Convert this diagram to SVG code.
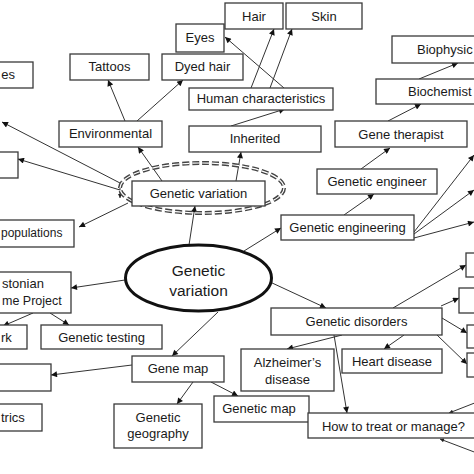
<svg xmlns="http://www.w3.org/2000/svg" width="474" height="474" viewBox="0 0 474 474">
<defs>
<marker id="ah" viewBox="0 0 10 10" refX="10" refY="5" markerWidth="8" markerHeight="6" markerUnits="userSpaceOnUse" orient="auto"><path d="M0,0 L10,5 L0,10 z" fill="#111"/></marker>
<marker id="as" viewBox="0 0 10 10" refX="10" refY="5" markerWidth="5" markerHeight="4" markerUnits="userSpaceOnUse" orient="auto"><path d="M0,0 L10,5 L0,10 z" fill="#222"/></marker>
<style>
rect.b{fill:#fff;stroke:#3a3a3a;stroke-width:1.3}
text{font-family:"Liberation Sans",Arial,sans-serif;font-size:13px;fill:#1a1a1a}
text.c{text-anchor:middle}
text.e{text-anchor:end}
#connectors line,#connectors path{stroke:#333;stroke-width:1;fill:none;marker-end:url(#ah)}
</style>
</defs>
<rect width="474" height="474" fill="#fff"/>
<g id="connectors">
<line x1="125" y1="121" x2="108" y2="80"/>
<line x1="137" y1="121" x2="183" y2="80"/>
<line x1="284" y1="88" x2="225" y2="37"/>
<line x1="251" y1="88" x2="274" y2="29"/>
<line x1="270" y1="88" x2="292" y2="29"/>
<line x1="231" y1="126" x2="285" y2="109"/>
<line x1="162" y1="181" x2="138" y2="147"/>
<line x1="236" y1="181" x2="241" y2="152"/>
<line x1="120" y1="183" x2="2" y2="122"/>
<line x1="120" y1="190" x2="18" y2="159"/>
<line x1="128" y1="203" x2="79" y2="227"/>
<line x1="189" y1="245" x2="195" y2="206"/>
<line x1="125" y1="280" x2="71" y2="288"/>
<line x1="244" y1="251" x2="281" y2="228"/>
<line x1="270" y1="282" x2="326" y2="308"/>
<line x1="218" y1="312" x2="172" y2="356"/>
<line x1="33" y1="313" x2="3" y2="326"/>
<line x1="50" y1="313" x2="69" y2="325"/>
<line x1="132" y1="365" x2="51" y2="375"/>
<line x1="193" y1="382" x2="177" y2="404"/>
<line x1="211" y1="382" x2="238" y2="396"/>
<line x1="344" y1="215" x2="374" y2="194"/>
<line x1="361" y1="169" x2="390" y2="148"/>
<line x1="388" y1="121" x2="421" y2="104"/>
<line x1="419" y1="79" x2="458" y2="63"/>
<line x1="414" y1="232" x2="474" y2="155"/>
<line x1="414" y1="234" x2="474" y2="190"/>
<line x1="414" y1="238" x2="474" y2="222"/>
<line x1="393" y1="308" x2="466" y2="265"/>
<line x1="441" y1="306" x2="459" y2="298"/>
<line x1="442" y1="318" x2="467" y2="333"/>
<line x1="437" y1="335" x2="467" y2="364"/>
<line x1="404" y1="335" x2="384" y2="349"/>
<line x1="342" y1="335" x2="287" y2="349"/>
<line x1="334" y1="335" x2="347" y2="413"/>
<line x1="490" y1="397" x2="449" y2="413" style="marker-end:url(#as)"/>
<line x1="490" y1="458" x2="440" y2="439" style="marker-end:url(#as)"/>
<path d="M120,190 L120,184" style="marker-end:url(#as)"/>
<path d="M120,191 L120,198" style="marker-end:url(#as)"/>
</g>
<g id="n-hair"><rect class="b" x="225" y="3" width="58" height="26"/><text class="c" x="254" y="21">Hair</text></g>
<g id="n-skin"><rect class="b" x="286" y="3" width="76" height="26"/><text class="c" x="324" y="21">Skin</text></g>
<g id="n-eyes"><rect class="b" x="176" y="24" width="48" height="28"/><text class="c" x="200" y="42">Eyes</text></g>
<g id="n-tattoos"><rect class="b" x="70" y="54" width="79" height="26"/><text class="c" x="109.5" y="71">Tattoos</text></g>
<g id="n-dyed"><rect class="b" x="162" y="54" width="81" height="26"/><text class="c" x="202.5" y="71">Dyed hair</text></g>
<g id="n-es"><rect class="b" x="-10" y="62" width="43" height="26"/><text class="e" x="15" y="79">es</text></g>
<g id="n-human"><rect class="b" x="189" y="88" width="144" height="22"/><text class="c" x="261" y="103">Human characteristics</text></g>
<g id="n-inherited"><rect class="b" x="189" y="126" width="132" height="26"/><text class="c" x="255" y="143">Inherited</text></g>
<g id="n-env"><rect class="b" x="59" y="121" width="103" height="26"/><text class="c" x="110.5" y="138">Environmental</text></g>
<g id="n-biophys"><rect class="b" x="392" y="36" width="90" height="27"/><text x="417" y="54">Biophysic</text></g>
<g id="n-biochem"><rect class="b" x="376" y="79" width="110" height="25"/><text x="408" y="96">Biochemist</text></g>
<g id="n-therapist"><rect class="b" x="335" y="121" width="132" height="26"/><text class="c" x="401" y="139">Gene therapist</text></g>
<g id="n-engineer"><rect class="b" x="317" y="169" width="120" height="25"/><text class="c" x="377" y="186">Genetic engineer</text></g>
<g id="n-engineering"><rect class="b" x="281" y="215" width="133" height="25"/><text class="c" x="347.5" y="232">Genetic engineering</text></g>
<g id="n-gv"><ellipse cx="202" cy="188" rx="82" ry="25" fill="none" stroke="#444" stroke-width="4" stroke-dasharray="7 3"/><ellipse cx="202" cy="188" rx="82" ry="25" fill="none" stroke="#fff" stroke-width="1.2" stroke-dasharray="7 3"/><rect class="b" x="132" y="181" width="133" height="25"/><text class="c" x="198.5" y="198">Genetic variation</text></g>
<g id="n-pop"><rect class="b" x="-10" y="220" width="84" height="27"/><text x="1" y="237" style="font-size:12px">populations</text></g>
<g id="n-left1"><rect class="b" x="-10" y="152" width="28" height="26"/></g>
<g id="n-center"><ellipse cx="198.5" cy="278" rx="73" ry="33" fill="#fff" stroke="#111" stroke-width="3"/><text class="c" x="198.5" y="276" style="font-size:15.5px">Genetic</text><text class="c" x="198.5" y="296" style="font-size:15.5px">variation</text></g>
<g id="n-estonian"><rect class="b" x="-10" y="272" width="81" height="41"/><text x="2" y="288">stonian</text><text x="2" y="305" style="font-size:12.5px">me Project</text></g>
<g id="n-rk"><rect class="b" x="-10" y="325" width="37" height="24"/><text x="1" y="342">rk</text></g>
<g id="n-testing"><rect class="b" x="41" y="325" width="121" height="24"/><text class="c" x="101.5" y="342">Genetic testing</text></g>
<g id="n-left2"><rect class="b" x="-10" y="364" width="61" height="27"/></g>
<g id="n-trics"><rect class="b" x="-10" y="404" width="52" height="27"/><text x="1" y="422">trics</text></g>
<g id="n-genemap"><rect class="b" x="132" y="356" width="92" height="26"/><text class="c" x="178" y="373">Gene map</text></g>
<g id="n-geo"><rect class="b" x="114" y="404" width="88" height="44"/><text class="c" x="158" y="422">Genetic</text><text class="c" x="158" y="438">geography</text></g>
<g id="n-geneticmap"><rect class="b" x="214" y="396" width="95" height="26"/><text class="c" x="259" y="413">Genetic map</text></g>
<g id="n-treat"><rect class="b" x="308" y="413" width="175" height="25"/><text class="c" x="393.5" y="431">How to treat or manage?</text></g>
<g id="n-disorders"><rect class="b" x="271" y="308" width="171" height="27"/><text class="c" x="356.5" y="326">Genetic disorders</text></g>
<g id="n-alz"><rect class="b" x="241" y="349" width="93" height="42"/><text class="c" x="287.5" y="367">Alzheimer’s</text><text class="c" x="287.5" y="384">disease</text></g>
<g id="n-heart"><rect class="b" x="342" y="349" width="100" height="24"/><text class="c" x="392" y="366">Heart disease</text></g>
<g id="n-r1"><rect class="b" x="466" y="253" width="20" height="24"/></g>
<g id="n-r2"><rect class="b" x="459" y="288" width="20" height="25"/></g>
<g id="n-r3"><rect class="b" x="467" y="325" width="20" height="23"/></g>
<g id="n-r4"><rect class="b" x="467" y="353" width="20" height="24"/></g>
</svg>
